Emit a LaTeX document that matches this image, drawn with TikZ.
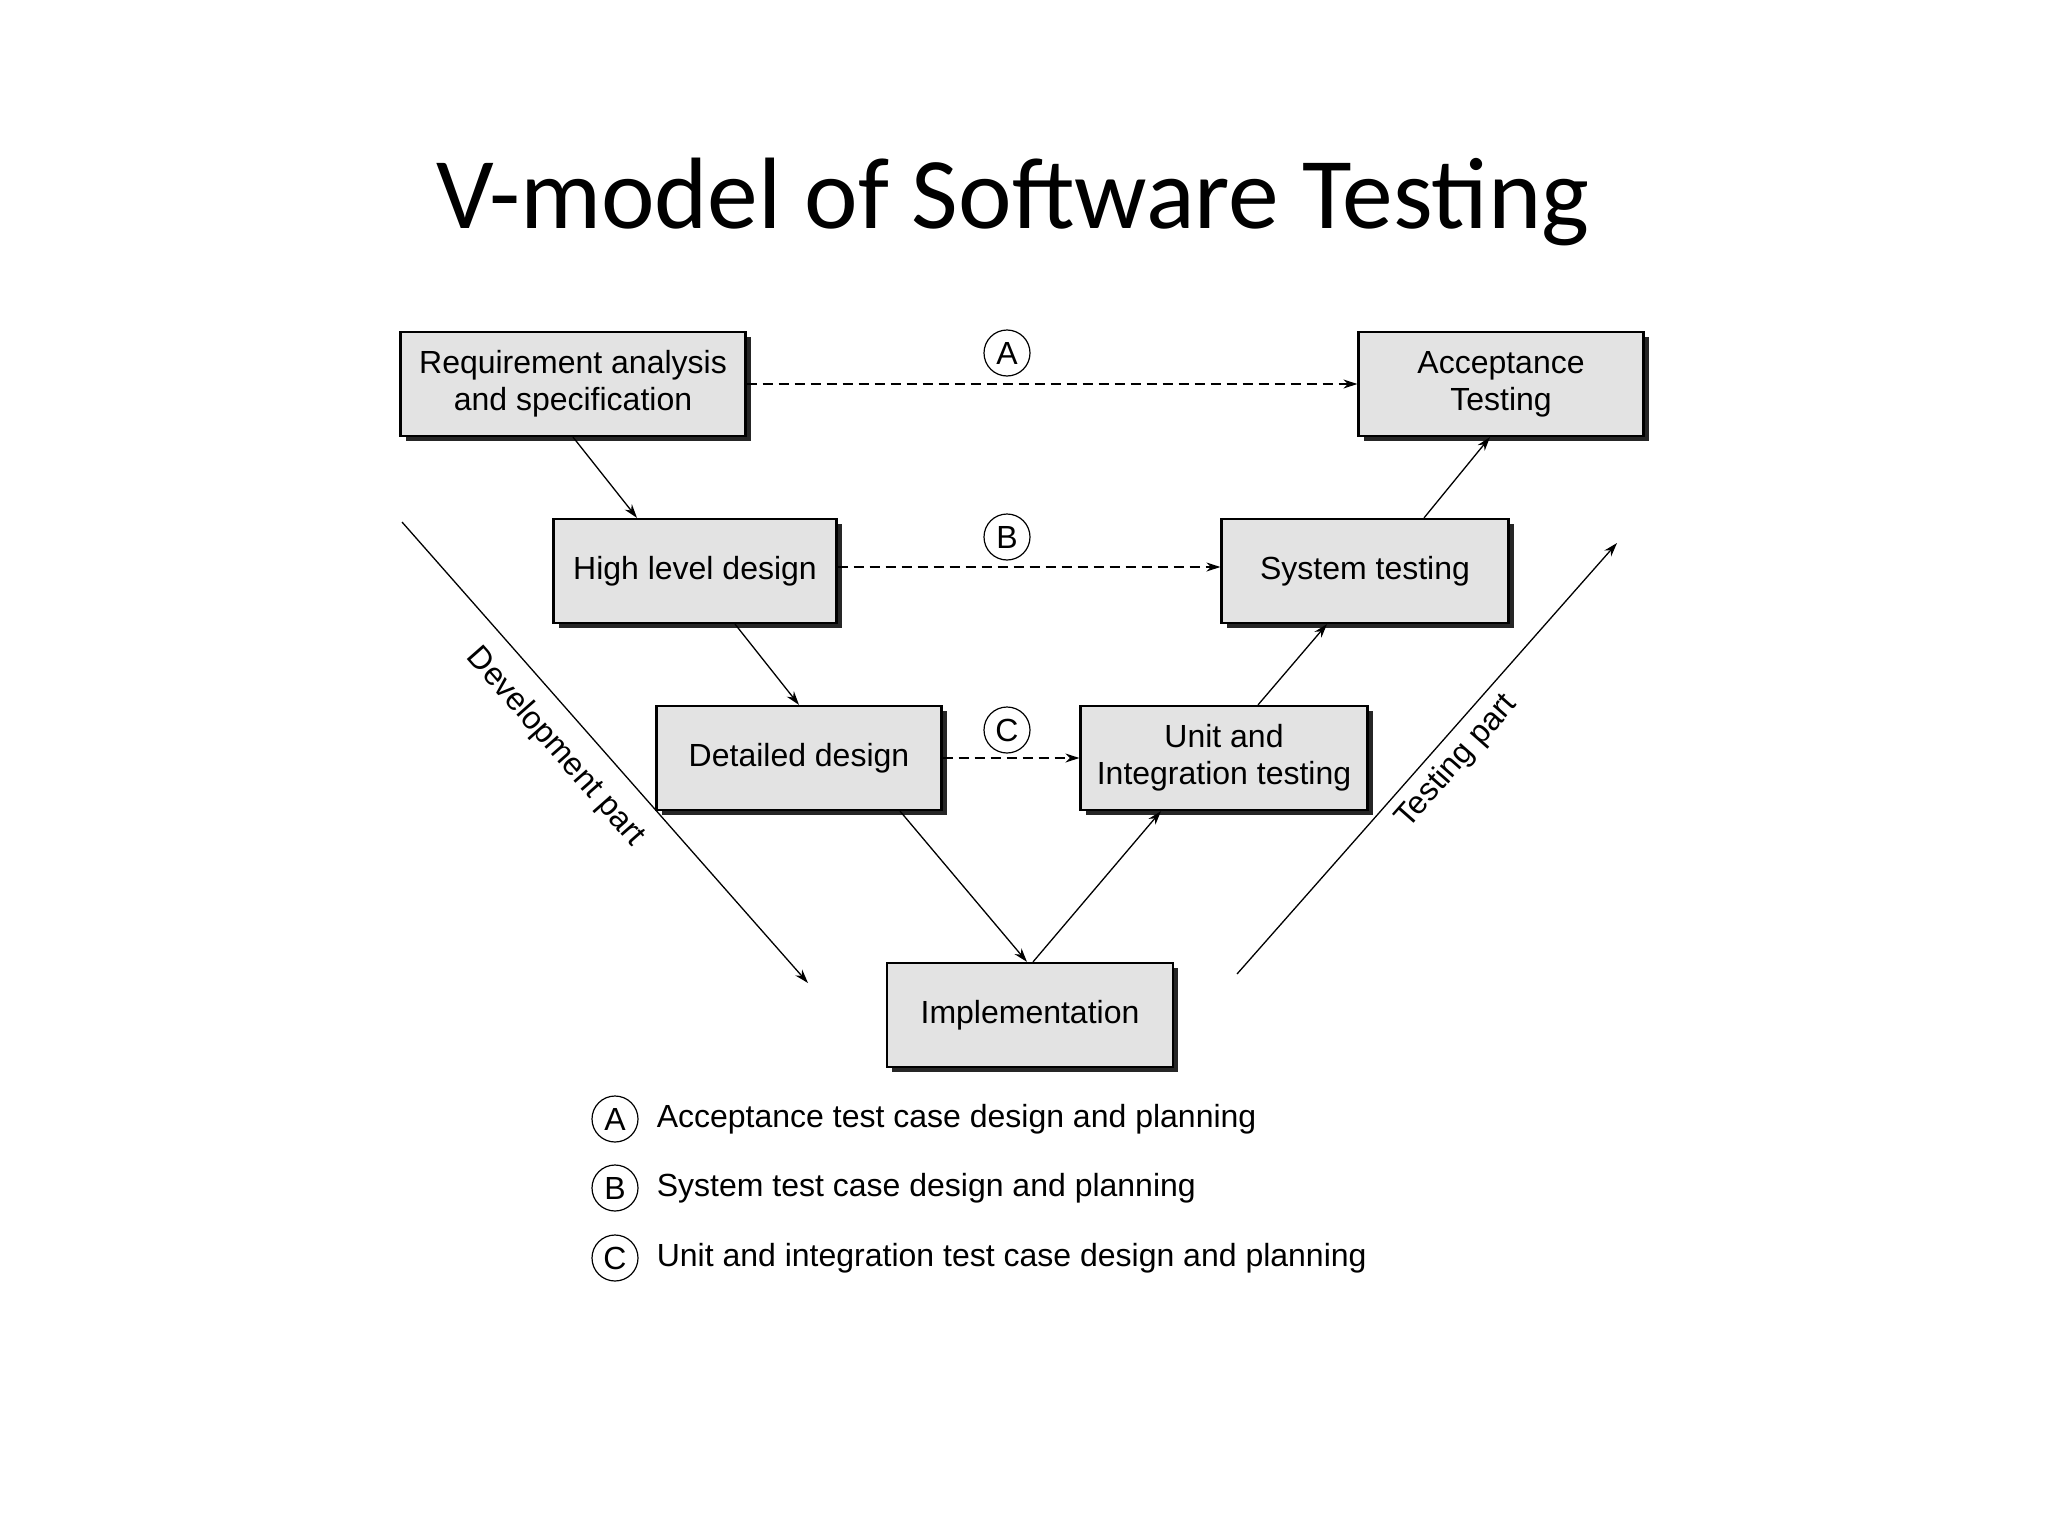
\documentclass[tikz,border=0pt]{standalone}
\usepackage{fontspec}
\setmainfont{Liberation Sans}
\newfontfamily\titlefont{Carlito}
\usetikzlibrary{arrows.meta,shadows,positioning}

\begin{document}
\begin{tikzpicture}[x=1pt, y=-1pt, font=\fontsize{32}{37}\selectfont]
    % Styles
    \tikzset{
      stage box/.style={draw, line width=2.2pt, fill=black!11, minimum height=104pt,
        align=center, inner sep=0pt,
        drop shadow={shadow xshift=5pt, shadow yshift=-5pt, fill=black!85, opacity=1}},
      tag circle/.style={circle, draw, line width=1.2pt, inner sep=0pt, minimum size=46pt},
      flow/.style={line width=1.3pt, -{Stealth[length=14pt,width=9pt]}},
      plan/.style={flow, dash pattern=on 10pt off 6pt},
      legend text/.style={inner sep=0pt}
    }
    \useasboundingbox (0,0) rectangle (2048,1536);
    \fill[white] (0,0) rectangle (2048,1536);

    % Title
    \node[font=\titlefont\fontsize{101.5}{120}\selectfont, anchor=base] (title) at (1013,228) {V-model of Software Testing};

    % Development side
    \node[stage box, minimum width=345pt] (req) at (573,384) {Requirement analysis\\and specification};
    \node[stage box, minimum width=283pt] (hld) at (695,571) {High level design};
    \node[stage box, minimum width=285pt] (dd) at (799,758) {Detailed design};

    % Bottom
    \node[stage box, minimum width=286pt] (impl) at (1030,1015) {Implementation};

    % Testing side
    \node[stage box, minimum width=285pt] (acc) at (1501,384) {Acceptance\\Testing};
    \node[stage box, minimum width=287pt] (sys) at (1365,571) {System testing};
    \node[stage box, minimum width=287pt] (unit) at (1224,758) {Unit and\\Integration testing};

    % Test planning links
    \node[tag circle] (ma) at (1007,353) {A};
    \node[tag circle] (mb) at (1007,537) {B};
    \node[tag circle] (mc) at (1007,730) {C};
    \draw[plan] (req.east) -- (acc.west);
    \draw[plan] ([yshift=4pt]hld.east) -- ([yshift=4pt]sys.west);
    \draw[plan] (dd.east) -- (unit.west);

    % Down the V
    \draw[flow] (req.south) -- ([xshift=-58pt]hld.north);
    \draw[flow] ([xshift=40pt]hld.south) -- (dd.north);
    \draw[flow] ([xshift=101pt]dd.south) -- ([xshift=-3pt]impl.north);

    % Up the V
    \draw[flow] ([xshift=3pt]impl.north) -- ([xshift=-63pt]unit.south);
    \draw[flow] ([xshift=34pt]unit.north) -- ([xshift=-38pt]sys.south);
    \draw[flow] ([xshift=59pt]sys.north) -- ([xshift=-11pt]acc.south);

    % Side arrows
    \coordinate (dev top) at (402,522);
    \coordinate (dev end) at (808,983);
    \coordinate (test start) at (1237,974);
    \coordinate (test top) at (1617,543);
    \draw[flow] (dev top) -- (dev end)
      node[pos=0.44, sloped, below=18pt, inner sep=0pt] (devlabel) {Development part};
    \draw[flow] (test start) -- (test top)
      node[pos=0.53, sloped, below=9pt, inner sep=0pt] (testlabel) {Testing part};

    % Legend
    \node[tag circle] (la) at (615,1119) {A};
    \node[tag circle] (lb) at (615,1188) {B};
    \node[tag circle] (lc) at (615,1258) {C};
    \node[legend text, right=18pt of la] (ta) {Acceptance test case design and planning};
    \node[legend text, right=18pt of lb] (tb) {System test case design and planning};
    \node[legend text, right=18pt of lc] (tc) {Unit and integration test case design and planning};
\end{tikzpicture}
\end{document}
